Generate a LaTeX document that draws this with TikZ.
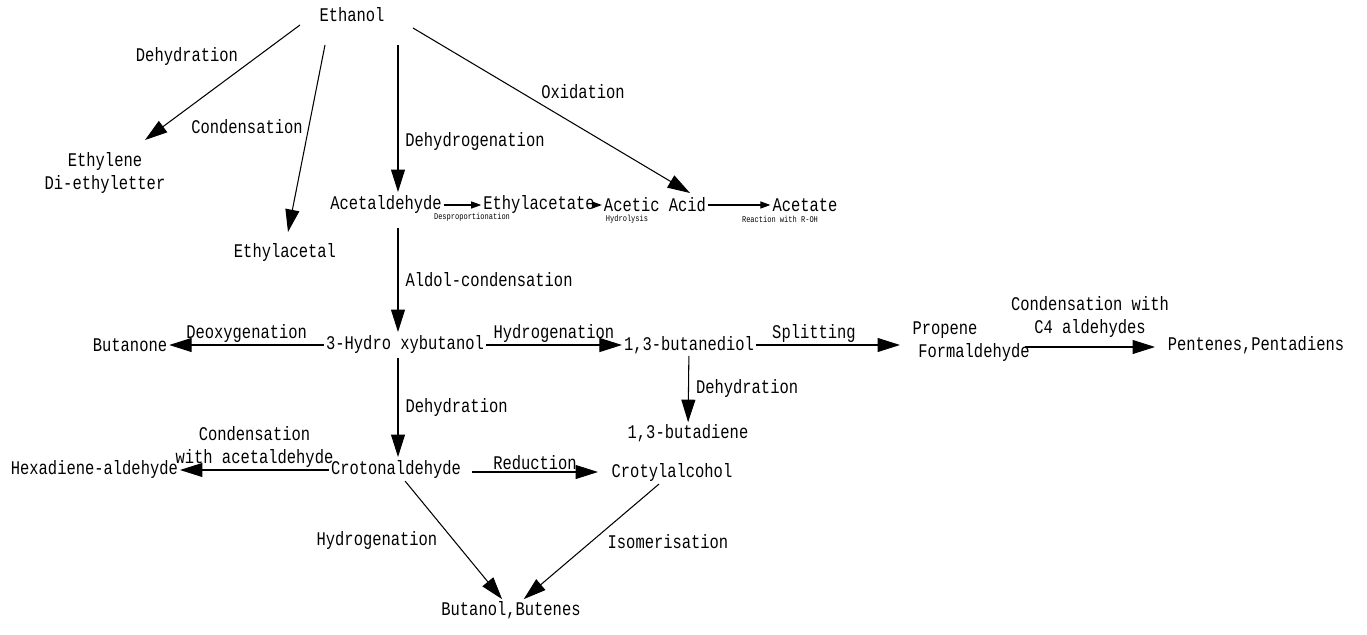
\documentclass[tikz,border=0pt]{standalone}
\usepackage{fontspec}
\setmainfont[FakeStretch=0.8]{Liberation Mono}
\usetikzlibrary{arrows.meta, positioning, calc}

\begin{document}
\begin{tikzpicture}[
    x=0.02cm, y=-0.02cm,
    every node/.style={font=\fontsize{11}{13}\selectfont, inner sep=1pt},
    react/.style={-{Triangle[length=4.5mm, width=2.8mm]}, semithick},
    smallReact/.style={-{Triangle[length=2mm, width=1.4mm]}, semithick},
    tinyLabel/.style={font=\fontsize{5}{6}\selectfont}
]
    \useasboundingbox (0,0) rectangle (1367,635);

    % --- TOP: ETHANOL AND ITS DIRECT PRODUCTS ---
    \node (eth) at (352,15) {Ethanol};
    \node[align=center] (eyl) at (105,173) {Ethylene\\Di-ethyletter};
    \node (etal) at (285,253) {Ethylacetal};
    \node (acal) at (386,205) {Acetaldehyde};
    \node (etac) at (539,205) {Ethylacetate};
    \node (acid) at (655,205) {Acetic Acid};
    \node (acet) at (805,205) {Acetate};

    \coordinate (e1) at (300,25);  \coordinate (e1t) at (145,140);
    \coordinate (e2) at (325,45);  \coordinate (e2t) at (288,232);
    \coordinate (e3) at (398,45);  \coordinate (e3t) at (398,192);
    \coordinate (e4) at (413,28);  \coordinate (e4t) at (690,193);
    \draw[react] (e1) -- (e1t);
    \draw[react] (e2) -- (e2t);
    \draw[react] (e3) -- (e3t);
    \draw[react] (e4) -- (e4t);
    \node at (187,57) {Dehydration};
    \node at (247,127) {Condensation};
    \node at (475,142) {Dehydrogenation};
    \node at (583,92) {Oxidation};

    % Acetaldehyde chain
    \draw[smallReact] (acal) -- (etac);
    \draw[smallReact] (etac) -- (acid);
    \draw[smallReact] (acid) -- (acet);
    \node[tinyLabel] at (472,217) {Desproportionation};
    \node[tinyLabel] at (627,219) {Hydrolysis};
    \node[tinyLabel] at (780,219) {Reaction with R-OH};

    % --- MIDDLE: 3-HYDROXYBUTANOL ROW ---
    \node (hb) at (405,345) {3-Hydro xybutanol};
    \node (buto) at (130,345) {Butanone};
    \node (diol) at (689,345) {1,3-butanediol};
    \node[align=center] (form) at (945,342) {Propene\\\hspace*{3em}Formaldehyde};
    \node (pent) at (1256,345) {Pentenes,Pentadiens};
    \node (diene) at (688,433) {1,3-butadiene};

    \coordinate (acalS) at (398,228);
    \coordinate (hbN) at (398,332);
    \coordinate (hbS) at (398,358);
    \coordinate (crotN) at (398,457);
    \coordinate (formW) at (900,345);
    \coordinate (formE) at (1025,347);
    \coordinate (pentW) at (1155,347);
    \draw[react] (acalS) -- node[right=3pt] {Aldol-condensation} (hbN);
    \draw[react] (hb) -- node[above] {Deoxygenation} (buto);
    \draw[react] (hb) -- node[above] {Hydrogenation} (diol);
    \draw[react] (diol) -- node[above, xshift=-8pt] {Splitting} (formW);
    \draw[react] (formE) -- node[above, align=center, yshift=4pt] {Condensation with\\C4 aldehydes} (pentW);
    \draw[react] (diol) -- node[right=3pt] {Dehydration} (diene);

    % --- BOTTOM: CROTONALDEHYDE ROW ---
    \node (crot) at (396,470) {Crotonaldehyde};
    \node[anchor=east] (hexa) at (180,470) {Hexadiene-aldehyde};
    \node (croal) at (672,473) {Crotylalcohol};
    \node (buta) at (511,610) {Butanol,Butenes};

    \coordinate (crotE) at (472,472);
    \coordinate (croalW) at (598,472);
    \draw[react] (hbS) -- node[right=3pt] {Dehydration} (crotN);
    \draw[react] (crot) -- node[above, align=center] {Condensation\\with acetaldehyde} (hexa);
    \draw[react] (crotE) -- node[above] {Reduction} (croalW);
    \draw[react] (crot) -- node[left=8pt] {Hydrogenation} (buta);
    \draw[react] (croal) -- node[right=8pt] {Isomerisation} (buta);
\end{tikzpicture}
\end{document}
